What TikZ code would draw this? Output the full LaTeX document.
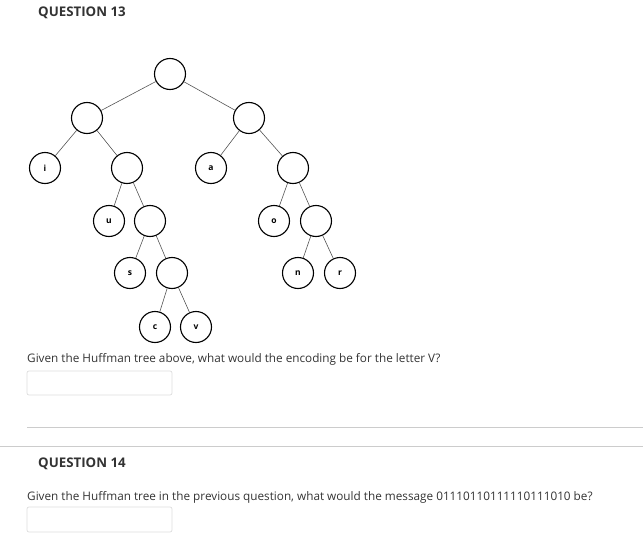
\documentclass[tikz,border=0pt]{standalone}
\usepackage{fontspec}
\setmainfont{Open Sans}
\definecolor{txtgray}{HTML}{333333}
\definecolor{rulegray}{HTML}{CCCCCC}
\definecolor{boxgray}{HTML}{DDDDDD}
\definecolor{edgegray}{HTML}{555555}
\begin{document}
\begin{tikzpicture}
	[x=1pt,y=-1pt,
	vertex/.style={circle,draw,line width=1.1pt,minimum size=31pt,inner sep=0pt,font=\fontsize{8.5}{9}\selectfont\bfseries},
	edge/.style={draw=edgegray,line width=0.6pt},
	title/.style={anchor=base west,inner sep=0pt,text=txtgray,font=\fontsize{13.3}{15}\selectfont\bfseries},
	question/.style={anchor=base west,inner sep=0pt,text=txtgray,font=\fontsize{11.75}{14}\selectfont},
	answer/.style={draw=boxgray,rounded corners=2pt,line width=0.7pt}]
	\useasboundingbox (0,0) rectangle (643,551);

	\node[title] (q13) at (38,16.5) {QUESTION 13};

	\node[vertex] (R) at (170,74) {};
	\node[vertex] (L1) at (87,118) {};
	\node[vertex] (R1) at (249,118) {};
	\node[vertex] (I) at (45,168) {i};
	\node[vertex] (L2) at (127,168) {};
	\node[vertex] (A) at (211,168) {a};
	\node[vertex] (R2) at (293,168) {};
	\node[vertex] (U) at (109,221) {u};
	\node[vertex] (L3) at (150,221) {};
	\node[vertex] (O) at (274,221) {o};
	\node[vertex] (R3) at (316,221) {};
	\node[vertex] (S) at (130,273) {s};
	\node[vertex] (L4) at (172,273) {};
	\node[vertex] (N) at (298,273) {n};
	\node[vertex] (Rr) at (340,273) {r};
	\node[vertex] (C) at (155,327) {c};
	\node[vertex] (V) at (196,327) {v};

	\draw[edge] (R) -- (L1);
	\draw[edge] (R) -- (R1);
	\draw[edge] (L1) -- (I);
	\draw[edge] (L1) -- (L2);
	\draw[edge] (R1) -- (A);
	\draw[edge] (R1) -- (R2);
	\draw[edge] (L2) -- (U);
	\draw[edge] (L2) -- (L3);
	\draw[edge] (R2) -- (O);
	\draw[edge] (R2) -- (R3);
	\draw[edge] (L3) -- (S);
	\draw[edge] (L3) -- (L4);
	\draw[edge] (R3) -- (N);
	\draw[edge] (R3) -- (Rr);
	\draw[edge] (L4) -- (C);
	\draw[edge] (L4) -- (V);

	\node[question] (t13) at (27,362) {Given the Huffman tree above, what would the encoding be for the letter V?};
	\draw[answer] (27,371) rectangle (172,395);

	\draw[rulegray,line width=0.8pt] (27,427) -- (643,427);
	\draw[rulegray,line width=0.8pt] (0,446) -- (643,446);

	\node[title] (q14) at (38,467.5) {QUESTION 14};
	\node[question] (t14) at (27,500) {Given the Huffman tree in the previous question, what would the message 01110110111110111010 be?};
	\draw[answer] (27,507) rectangle (172,532);
\end{tikzpicture}
\end{document}
